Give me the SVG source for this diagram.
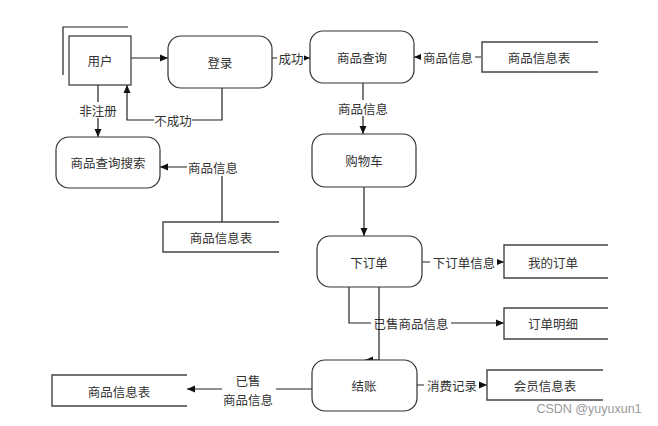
<svg xmlns="http://www.w3.org/2000/svg" width="658" height="426" viewBox="0 0 658 426">
<defs>
<marker id="ah" viewBox="0 0 8 8" refX="8" refY="4" markerWidth="8" markerHeight="8" markerUnits="userSpaceOnUse" orient="auto">
<path d="M0,0.5 L8,4 L0,7.5 Z" fill="#111"/>
</marker>
<style>
.t{font-family:"Noto Sans CJK SC","Liberation Sans",sans-serif;font-size:12.5px;fill:#333;text-anchor:middle;dominant-baseline:central}
.p{fill:#fff;stroke:#333;stroke-width:1.2}
.s{fill:none;stroke:#444;stroke-width:1.4}
.c{fill:none;stroke:#222;stroke-width:1.2}
.a{marker-end:url(#ah)}
.bg{fill:#fff}
</style>
</defs>
<rect width="658" height="426" fill="#fff"/>
<g id="connectors">
<path class="c a" d="M131,58 H168"/>
<path class="c a" d="M272,58 H310"/>
<rect class="bg" x="277" y="50" width="27" height="16"/>
<text class="t" x="291" y="58">成功</text>
<path class="c a" d="M222,88 V120 H127 V85"/>
<rect class="bg" x="154" y="112" width="38" height="16"/>
<text class="t" x="173" y="120">不成功</text>
<path class="c a" d="M98,85 V137"/>
<rect class="bg" x="78" y="102" width="40" height="16"/>
<text class="t" x="98" y="110">非注册</text>
<path class="c a" d="M481,57 H414"/>
<rect class="bg" x="421" y="49" width="54" height="16"/>
<text class="t" x="448" y="57">商品信息</text>
<path class="c a" d="M363,83 V134"/>
<rect class="bg" x="336" y="100" width="54" height="16"/>
<text class="t" x="363" y="108">商品信息</text>
<path class="c a" d="M222,222 V167 H160"/>
<rect class="bg" x="187" y="158" width="53" height="18"/>
<text class="t" x="213" y="167">商品信息</text>
<path class="c a" d="M364,187 V236"/>
<path class="c a" d="M422,262 H504"/>
<rect class="bg" x="430" y="254" width="67" height="16"/>
<text class="t" x="464" y="262">下订单信息</text>
<path class="c a" d="M349,287 V323 H504"/>
<rect class="bg" x="371" y="315" width="80" height="16"/>
<text class="t" x="411" y="323">已售商品信息</text>
<path class="c a" d="M379,287 V360 H365"/>
<path class="c a" d="M312,389 H187"/>
<rect class="bg" x="222" y="372" width="54" height="36"/>
<text class="t" x="248" y="380">已售</text>
<text class="t" x="248" y="399">商品信息</text>
<path class="c a" d="M417,385 H487"/>
<rect class="bg" x="424" y="377" width="55" height="16"/>
<text class="t" x="452" y="385">消费记录</text>
</g>
<g id="user">
<path class="c" d="M63,75 V27 H128"/>
<rect class="p" x="69" y="36" width="62" height="49"/>
<text class="t" x="100" y="60">用户</text>
</g>
<g id="login">
<rect class="p" x="168" y="36" width="104" height="52" rx="13"/>
<text class="t" x="220" y="62">登录</text>
</g>
<g id="query">
<rect class="p" x="310" y="31" width="104" height="52" rx="13"/>
<text class="t" x="362" y="57">商品查询</text>
</g>
<g id="table1">
<path class="s" d="M598,42 H482 V72 H598"/>
<text class="t" x="539" y="57">商品信息表</text>
</g>
<g id="search">
<rect class="p" x="56" y="137" width="104" height="51" rx="13"/>
<text class="t" x="108" y="162">商品查询搜索</text>
</g>
<g id="table2">
<path class="s" d="M279,222 H163 V252 H279"/>
<text class="t" x="221" y="237">商品信息表</text>
</g>
<g id="cart">
<rect class="p" x="312" y="134" width="104" height="53" rx="13"/>
<text class="t" x="364" y="160">购物车</text>
</g>
<g id="order">
<rect class="p" x="317" y="236" width="105" height="51" rx="13"/>
<text class="t" x="369" y="262">下订单</text>
</g>
<g id="myorder">
<path class="s" d="M608,245 H504 V278 H608"/>
<text class="t" x="553" y="262">我的订单</text>
</g>
<g id="detail">
<path class="s" d="M608,308 H504 V339 H608"/>
<text class="t" x="553" y="323">订单明细</text>
</g>
<g id="checkout">
<rect class="p" x="312" y="360" width="105" height="51" rx="13"/>
<text class="t" x="364" y="385">结账</text>
</g>
<g id="table3">
<path class="s" d="M187,375 H52 V406 H187"/>
<text class="t" x="119" y="391">商品信息表</text>
</g>
<g id="member">
<path class="s" d="M603,370 H487 V400 H603"/>
<text class="t" x="545" y="385">会员信息表</text>
</g>
<text x="589" y="409" style="font-family:'Liberation Sans',sans-serif;font-size:12.5px;fill:#999;text-anchor:middle;dominant-baseline:central">CSDN @yuyuxun1</text>
</svg>
